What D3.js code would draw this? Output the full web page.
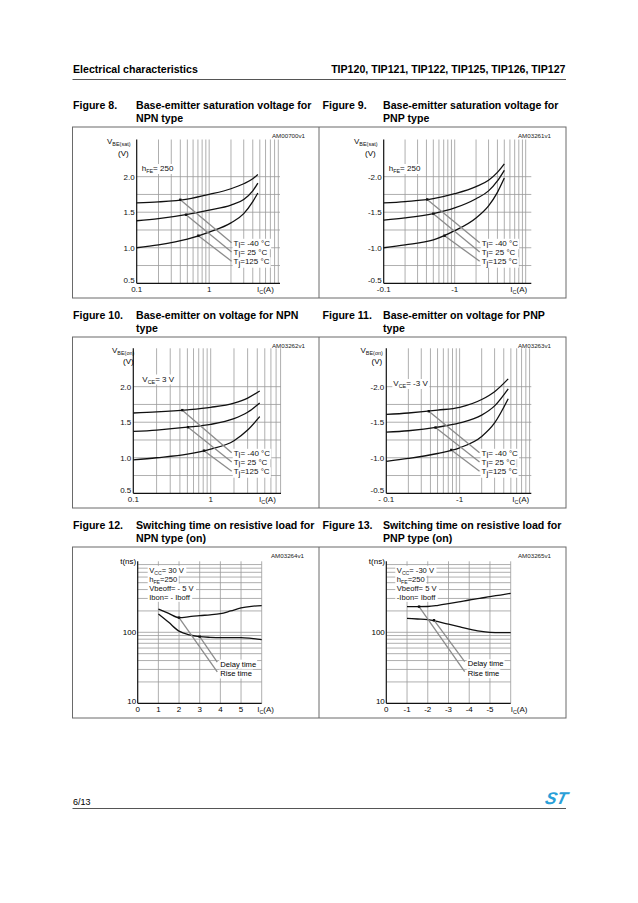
<!DOCTYPE html>
<html><head><meta charset="utf-8">
<script src="https://cdn.jsdelivr.net/npm/d3@7/dist/d3.min.js"></script>
<style>
body{margin:0;background:#fff;}
svg{display:block;font-family:"Liberation Sans",Arial,Helvetica,sans-serif;}
</style></head><body>
<svg id="page" width="638" height="903"></svg>
<script>
// ---------------- DATA ----------------
const tjLabels = ["= -40 °C", "= 25 °C", "=125 °C"];
const satYTicksNpn = [0.5, 1.0, 1.5, 2.0];
const satYTickLabelsNpn = ["0.5", "1.0", "1.5", "2.0"];
const satYTicksPnp = [-0.5, -1.0, -1.5, -2.0];
const satYTickLabelsPnp = ["-0.5", "-1.0", "-1.5", "-2.0"];
const satYGrid = [0.75, 1.0, 1.25, 1.5, 1.75, 2.0];

// Figure 8: VBE(sat) NPN, hFE = 250
const fig8Ic = [0.1, 0.2, 0.5, 1, 2, 3, 4, 4.7];
const fig8VbeM40 = [1.63, 1.645, 1.685, 1.75, 1.83, 1.90, 1.97, 2.03];
const fig8Vbe25 = [1.38, 1.41, 1.47, 1.53, 1.60, 1.68, 1.80, 1.91];
const fig8Vbe125 = [1.00, 1.04, 1.12, 1.22, 1.35, 1.48, 1.65, 1.77];
const fig8MarkIc = [0.40, 0.48, 0.71];
const fig8MarkV = [1.675, 1.465, 1.17];
const fig8XTicks = [0.1, 1];
const fig8XTickLabels = ["0.1", "1"];

// Figure 9: VBE(sat) PNP
const fig9Ic = [-0.1, -0.2, -0.5, -1, -2, -3, -4, -5];
const fig9VbeM40 = [-1.63, -1.65, -1.69, -1.76, -1.86, -1.95, -2.06, -2.18];
const fig9Vbe25 = [-1.39, -1.42, -1.48, -1.56, -1.69, -1.80, -1.94, -2.09];
const fig9Vbe125 = [-1.00, -1.04, -1.11, -1.24, -1.42, -1.59, -1.78, -1.98];
const fig9MarkIc = [-0.41, -0.50, -0.72];
const fig9MarkV = [-1.68, -1.48, -1.17];
const fig9XTicks = [-0.1, -1];
const fig9XTickLabels = ["-0.1", "-1"];

// Figure 10: VBE(on) NPN, VCE = 3 V
const fig10Ic = [0.1, 0.2, 0.5, 1, 2, 3, 4.3];
const fig10VbeM40 = [1.63, 1.645, 1.675, 1.71, 1.77, 1.84, 1.94];
const fig10Vbe25 = [1.37, 1.39, 1.43, 1.47, 1.55, 1.64, 1.77];
const fig10Vbe125 = [0.97, 1.00, 1.05, 1.12, 1.24, 1.39, 1.58];
const fig10MarkIc = [0.43, 0.51, 0.82];
const fig10MarkV = [1.67, 1.43, 1.10];
const fig10XTicks = [0.1, 1];
const fig10XTickLabels = ["0.1", "1"];

// Figure 11: VBE(on) PNP, VCE = -3 V
const fig11Ic = [-0.1, -0.2, -0.5, -1, -2, -3, -4.6];
const fig11VbeM40 = [-1.61, -1.63, -1.67, -1.71, -1.82, -1.93, -2.11];
const fig11Vbe25 = [-1.36, -1.38, -1.43, -1.49, -1.60, -1.73, -1.97];
const fig11Vbe125 = [-0.95, -0.99, -1.06, -1.14, -1.30, -1.49, -1.83];
const fig11MarkIc = [-0.38, -0.47, -0.77];
const fig11MarkV = [-1.655, -1.425, -1.11];
const fig11XTicks = [-0.1, -1];
const fig11XTickLabels = ["- 0.1", "-1"];

// leader-line end points (label anchors), value coordinates
const satLabelV = [1.07, 0.94, 0.81];
const fig8LabelIc = 2.04, fig9LabelIc = -2.25, fig10LabelIc = 1.87, fig11LabelIc = -1.87;

// Figure 12: switching time NPN
const fig12Ic = [1, 1.5, 2, 2.5, 3, 3.5, 4, 4.5, 5, 5.5, 6];
const fig12Rise = [213, 185, 161, 166, 172, 176, 183, 200, 220, 232, 238];
const fig12Delay = [181, 138, 104, 92, 87, 85, 84, 84, 84, 82, 79];
const fig12XTicks = [0, 1, 2, 3, 4, 5];
const fig12XTickLabels = ["0", "1", "2", "3", "4", "5"];
const fig12Mark = [[2, 161], [3, 87]];
const fig12LabelIc = 3.85, fig12LabelT = [27.6, 38];

// Figure 13: switching time PNP
const fig13Ic = [-1, -1.5, -2, -2.5, -3, -3.5, -4, -4.5, -5, -5.5, -6];
const fig13Rise = [230, 230, 231, 240, 253, 268, 285, 300, 318, 335, 354];
const fig13Delay = [157, 154, 151, 141, 130, 120, 111, 104, 100, 99, 99];
const fig13XTicks = [0, -1, -2, -3, -4, -5];
const fig13XTickLabels = ["0", "-1", "-2", "-3", "-4", "-5"];
const fig13Mark = [[-1.58, 230], [-2.3, 148]];
const fig13LabelIc = -3.78, fig13LabelT = [27.9, 38.5];

const timeYTicks = [10, 100];
const timeYTickLabels = ["10", "100"];

// ---------------- DRAWING ----------------
const svg = d3.select("#page");
svg.append("rect").attr("width", 638).attr("height", 903).attr("fill", "#fff");

const GRID = "#9a9a9a";
const LEAD = "#8c8c8c";

function rich(g, x, y, parts, size, opts = {}) {
  const t = g.append("text").attr("x", x).attr("y", y)
    .attr("font-size", size).attr("fill", "#111")
    .attr("text-anchor", opts.anchor || "start");
  parts.forEach(p => {
    const s = t.append("tspan").text(p[0]);
    if (p[1] === "sub") s.attr("font-size", size * 0.68).attr("dy", size * 0.25);
    else if (p[1] === "lower") s.attr("dy", size * 0.18);
    else if (p[1] === "back") s.attr("dy", -size * 0.25);
    else if (p[1] === "backl") s.attr("dy", -size * 0.18);
  });
  return t;
}
function whiteBg(g, textSel, pad = 1) {
  const b = textSel.node().getBBox();
  g.insert("rect", () => textSel.node())
    .attr("x", b.x - pad).attr("y", b.y).attr("width", b.width + 2 * pad)
    .attr("height", b.height).attr("fill", "#fff");
}

// header
svg.append("text").attr("x", 73).attr("y", 72.5).attr("font-size", 10.6)
  .attr("font-weight", "bold").text("Electrical characteristics");
svg.append("text").attr("x", 565.5).attr("y", 72.5).attr("font-size", 10.6)
  .attr("font-weight", "bold").attr("text-anchor", "end")
  .text("TIP120, TIP121, TIP122, TIP125, TIP126, TIP127");
svg.append("line").attr("x1", 72.5).attr("x2", 566).attr("y1", 79.5).attr("y2", 79.5)
  .attr("stroke", "#555").attr("stroke-width", 1);

// captions
const captions = [
  [108.5, "Figure 8.", "Base-emitter saturation voltage for", "NPN type", "Figure 9.", "Base-emitter saturation voltage for", "PNP type"],
  [318.5, "Figure 10.", "Base-emitter on voltage for NPN", "type", "Figure 11.", "Base-emitter on voltage for PNP", "type"],
  [528.5, "Figure 12.", "Switching time on resistive load for", "NPN type (on)", "Figure 13.", "Switching time on resistive load for", "PNP type (on)"]
];
captions.forEach(c => {
  const y = c[0];
  const add = (x, yy, s) => svg.append("text").attr("x", x).attr("y", yy)
    .attr("font-size", 10.6).attr("font-weight", "bold").text(s);
  add(73, y, c[1]); add(136, y, c[2]); add(136, y + 13.5, c[3]);
  add(322.5, y, c[4]); add(383, y, c[5]); add(383, y + 13.5, c[6]);
});

// boxes
[[127, 298], [337, 508], [547, 718]].forEach(r => {
  svg.append("rect").attr("x", 72.5).attr("y", r[0]).attr("width", 566 - 72.5)
    .attr("height", r[1] - r[0]).attr("fill", "none").attr("stroke", "#6a6a6a").attr("stroke-width", 1);
  svg.append("line").attr("x1", 319).attr("x2", 319).attr("y1", r[0]).attr("y2", r[1])
    .attr("stroke", "#6a6a6a").attr("stroke-width", 1);
});

function logGrid(domain) {
  const sgn = Math.sign(domain[0]);
  const lo = Math.abs(domain[0]), hi = Math.abs(domain[1]);
  const out = [];
  for (let e = -2; e <= 2; e++) for (let k = 1; k <= 9; k++) {
    const v = +(k * Math.pow(10, e)).toPrecision(3);
    if (v > lo * 1.001 && v <= hi * 1.0001) out.push(sgn * v);
  }
  return out;
}

function drawSat(c) {
  const g = svg.append("g");
  const x = d3.scaleLog().domain(c.xDomain).range([c.x0, c.x1]);
  const y = d3.scaleLinear().domain(c.yDomain).range([c.yb, c.yt]);
  const sg = Math.sign(c.xDomain[0]);
  // grid
  g.selectAll(".vg").data(logGrid(c.xDomain)).join("line")
    .attr("x1", d => x(d)).attr("x2", d => x(d)).attr("y1", c.yt).attr("y2", c.yb)
    .attr("stroke", GRID).attr("stroke-width", 0.8);
  g.selectAll(".hg").data(satYGrid.map(v => v * sg)).join("line")
    .attr("x1", c.x0).attr("x2", c.x1).attr("y1", d => y(d)).attr("y2", d => y(d))
    .attr("stroke", GRID).attr("stroke-width", 0.8);
  // axes
  g.append("line").attr("x1", c.x0).attr("x2", c.x0).attr("y1", c.yt).attr("y2", c.yb)
    .attr("stroke", "#111").attr("stroke-width", 1.2);
  g.append("line").attr("x1", c.x0).attr("x2", c.x1).attr("y1", c.yb).attr("y2", c.yb)
    .attr("stroke", "#111").attr("stroke-width", 1.2);
  // tick labels
  g.selectAll(".yl").data(c.yTicks).join("text")
    .attr("x", c.x0 - 2).attr("y", (d, i) => y(d) + (i === 0 ? 0 : 3)).attr("text-anchor", "end")
    .attr("font-size", 8).attr("fill", "#111").text((d, i) => c.yTickLabels[i]);
  g.selectAll(".xl").data(c.xTicks).join("text")
    .attr("x", d => x(d)).attr("y", c.yb + 9).attr("text-anchor", "middle")
    .attr("font-size", 8).attr("fill", "#111").text((d, i) => c.xTickLabels[i]);
  rich(g, c.x1 - c.icOff, c.yb + 8.5, [["I"], ["C", "sub"], ["(A)", "back"]], 8);
  // axis title
  rich(g, c.titleX, c.yt + 4.5, [["V"], [c.sub, "sub"]], 8);
  g.append("text").attr("x", c.titleX + 11).attr("y", c.yt + 16).attr("font-size", 8).text("(V)");
  // AM code
  g.append("text").attr("x", c.amX).attr("y", c.amY).attr("text-anchor", "end")
    .attr("font-size", 6.2).attr("fill", "#222").text(c.am);
  // condition
  const cond = rich(g, c.x0 + c.condDx, c.condY, c.cond, 8);
  whiteBg(g, cond);
  // curves
  const line = d3.line().x(d => x(d[0])).y(d => y(d[1])).curve(d3.curveMonotoneX);
  c.series.forEach(s => {
    g.append("path").datum(c.ic.map((v, i) => [v, s[i]])).attr("d", line)
      .attr("fill", "none").attr("stroke", "#111").attr("stroke-width", 1.3);
  });
  // leaders and labels
  c.markIc.forEach((m, i) => {
    const lv = satLabelV[i] * sg;
    g.append("line").attr("x1", x(m)).attr("y1", y(c.markV[i]))
      .attr("x2", x(c.labelIc)).attr("y2", y(lv))
      .attr("stroke", LEAD).attr("stroke-width", 1.3);
    g.append("rect").attr("x", x(m) - 1.2).attr("y", y(c.markV[i]) - 1.2)
      .attr("width", 2.4).attr("height", 2.4).attr("fill", "#111");
    const t = rich(g, x(c.labelIc) + 2, y(lv) + 3,
      [["T"], ["j", "lower"], [tjLabels[i], "backl"]], 8);
    whiteBg(g, t);
  });
}

drawSat({
  x0: 136.7, x1: 280, yt: 139.5, yb: 283.3, xDomain: [0.1, 9.5], yDomain: [0.5, 2.523],
  yTicks: satYTicksNpn, yTickLabels: satYTickLabelsNpn, xTicks: fig8XTicks, xTickLabels: fig8XTickLabels,
  icOff: 23, titleX: 107, sub: "BE(sat)", am: "AM00700v1", amX: 305, amY: 137.5,
  cond: [["h"], ["FE", "sub"], ["= 250", "back"]], condDx: 5, condY: 171,
  ic: fig8Ic, series: [fig8VbeM40, fig8Vbe25, fig8Vbe125],
  markIc: fig8MarkIc, markV: fig8MarkV, labelIc: fig8LabelIc
});
drawSat({
  x0: 383.7, x1: 531.3, yt: 139.5, yb: 283.3, xDomain: [-0.1, -12], yDomain: [-0.5, -2.523],
  yTicks: satYTicksPnp, yTickLabels: satYTickLabelsPnp, xTicks: fig9XTicks, xTickLabels: fig9XTickLabels,
  icOff: 21, titleX: 354, sub: "BE(sat)", am: "AM03261v1", amX: 551, amY: 137.5,
  cond: [["h"], ["FE", "sub"], ["= 250", "back"]], condDx: 5, condY: 171,
  ic: fig9Ic, series: [fig9VbeM40, fig9Vbe25, fig9Vbe125],
  markIc: fig9MarkIc, markV: fig9MarkV, labelIc: fig9LabelIc
});
drawSat({
  x0: 133.3, x1: 281, yt: 348.3, yb: 493.3, xDomain: [0.1, 8.1], yDomain: [0.5, 2.54],
  yTicks: satYTicksNpn, yTickLabels: satYTickLabelsNpn, xTicks: fig10XTicks, xTickLabels: fig10XTickLabels,
  icOff: 22, titleX: 112, sub: "BE(on)", am: "AM03262v1", amX: 305, amY: 347.5,
  cond: [["V"], ["CE", "sub"], ["= 3 V", "back"]], condDx: 9, condY: 381.5,
  ic: fig10Ic, series: [fig10VbeM40, fig10Vbe25, fig10Vbe125],
  markIc: fig10MarkIc, markV: fig10MarkV, labelIc: fig10LabelIc
});
drawSat({
  x0: 386.3, x1: 531.3, yt: 348.3, yb: 493.3, xDomain: [-0.1, -9.5], yDomain: [-0.5, -2.54],
  yTicks: satYTicksPnp, yTickLabels: satYTickLabelsPnp, xTicks: fig11XTicks, xTickLabels: fig11XTickLabels,
  icOff: 19, titleX: 360.5, sub: "BE(on)", am: "AM03263v1", amX: 551, amY: 347.5,
  cond: [["V"], ["CE", "sub"], ["= -3 V", "back"]], condDx: 7, condY: 386,
  ic: fig11Ic, series: [fig11VbeM40, fig11Vbe25, fig11Vbe125],
  markIc: fig11MarkIc, markV: fig11MarkV, labelIc: fig11LabelIc
});

function drawTime(c) {
  const g = svg.append("g");
  const x = d3.scaleLinear().domain(c.xDomain).range([c.x0, c.x1]);
  const y = d3.scaleLog().domain([10, 1000]).range([c.yb, c.yt]);
  const vg = d3.range(1, 7).map(v => v * Math.sign(c.xDomain[1]));
  g.selectAll(".vg").data(vg).join("line")
    .attr("x1", d => x(d)).attr("x2", d => x(d)).attr("y1", c.yt).attr("y2", c.yb)
    .attr("stroke", GRID).attr("stroke-width", 0.8);
  g.selectAll(".hg").data(logGrid([10, 1000])).join("line")
    .attr("x1", c.x0).attr("x2", c.x1).attr("y1", d => y(d)).attr("y2", d => y(d))
    .attr("stroke", GRID).attr("stroke-width", 0.8);
  g.append("line").attr("x1", c.x0).attr("x2", c.x0).attr("y1", c.yt).attr("y2", c.yb)
    .attr("stroke", "#111").attr("stroke-width", 1.2);
  g.append("line").attr("x1", c.x0).attr("x2", c.x1).attr("y1", c.yb).attr("y2", c.yb)
    .attr("stroke", "#111").attr("stroke-width", 1.2);
  g.selectAll(".yl").data(timeYTicks).join("text")
    .attr("x", c.x0 - 1.5).attr("y", d => y(d) + (d === 10 ? 0.5 : 3)).attr("text-anchor", "end")
    .attr("font-size", 8).text((d, i) => timeYTickLabels[i]);
  g.selectAll(".xl").data(c.xTicks).join("text")
    .attr("x", d => x(d)).attr("y", c.yb + 8.5).attr("text-anchor", "middle")
    .attr("font-size", 8).text((d, i) => c.xTickLabels[i]);
  rich(g, x(c.xDomain[1]) - c.icOff, c.yb + 8.5, [["I"], ["C", "sub"], ["(A)", "back"]], 8);
  g.append("text").attr("x", c.x0 - 1.5).attr("y", c.yt + 3).attr("text-anchor", "end")
    .attr("font-size", 8).text("t(ns)");
  g.append("text").attr("x", c.amX).attr("y", c.amY).attr("text-anchor", "end")
    .attr("font-size", 6.2).attr("fill", "#222").text(c.am);
  // condition block
  c.cond.forEach((parts, i) => {
    const t = rich(g, c.x0 + c.condDx, c.yt + 11.5 + i * 9, parts, 7.6);
    whiteBg(g, t, 1.5);
  });
  const line = d3.line().x(d => x(d[0])).y(d => y(d[1])).curve(d3.curveMonotoneX);
  [c.rise, c.delay].forEach(s => {
    g.append("path").datum(c.ic.map((v, i) => [v, s[i]])).attr("d", line)
      .attr("fill", "none").attr("stroke", "#111").attr("stroke-width", 1.3);
  });
  // leaders: upper curve mark -> "Rise time", lower curve mark -> "Delay time"
  const names = ["Rise time", "Delay time"];
  c.mark.forEach((m, i) => {
    g.append("line").attr("x1", x(m[0])).attr("y1", y(m[1]))
      .attr("x2", x(c.labelIc)).attr("y2", y(c.labelT[i]))
      .attr("stroke", LEAD).attr("stroke-width", 1.3);
    g.append("rect").attr("x", x(m[0]) - 1.2).attr("y", y(m[1]) - 1.2)
      .attr("width", 2.4).attr("height", 2.4).attr("fill", "#111");
    const t = g.append("text").attr("x", x(c.labelIc) + 3).attr("y", y(c.labelT[i]) + 4.5)
      .attr("font-size", 7.6).text(names[i]);
    whiteBg(g, t);
  });
}

drawTime({
  x0: 137.7, x1: 261.7, yt: 561.3, yb: 703.3, xDomain: [0, 6],
  xTicks: fig12XTicks, xTickLabels: fig12XTickLabels, icOff: 4.5,
  am: "AM03264v1", amX: 304, amY: 557.5, condDx: 11.5,
  cond: [[["V"], ["CC", "sub"], ["= 30 V", "back"]], [["h"], ["FE", "sub"], ["=250", "back"]],
         [["Vbeoff= - 5 V"]], [["Ibon= - Iboff"]]],
  ic: fig12Ic, rise: fig12Rise, delay: fig12Delay, mark: fig12Mark,
  labelIc: fig12LabelIc, labelT: fig12LabelT
});
drawTime({
  x0: 386.3, x1: 510.7, yt: 561.3, yb: 703.3, xDomain: [0, -6],
  xTicks: fig13XTicks, xTickLabels: fig13XTickLabels, icOff: 0,
  am: "AM03265v1", amX: 551, amY: 557.5, condDx: 10.5,
  cond: [[["V"], ["CC", "sub"], ["= -30 V", "back"]], [["h"], ["FE", "sub"], ["=250", "back"]],
         [["Vbeoff=  5 V"]], [["-Ibon=  Iboff"]]],
  ic: fig13Ic, rise: fig13Rise, delay: fig13Delay, mark: fig13Mark,
  labelIc: fig13LabelIc, labelT: fig13LabelT
});

// footer
svg.append("text").attr("x", 73).attr("y", 805).attr("font-size", 9).text("6/13");
svg.append("line").attr("x1", 72.5).attr("x2", 566).attr("y1", 808.5).attr("y2", 808.5)
  .attr("stroke", "#555").attr("stroke-width", 1);
svg.append("text").attr("x", 0).attr("y", 0).attr("text-anchor", "end")
  .attr("font-size", 17).attr("font-weight", "bold").attr("font-style", "italic")
  .attr("fill", "#2a9fd8").attr("transform", "translate(566,804) skewX(-14)").text("ST");
</script>
</body></html>
